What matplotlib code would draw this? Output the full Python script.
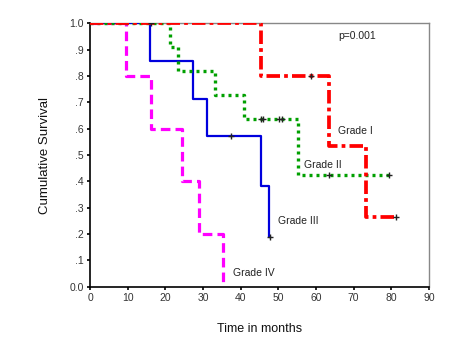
import matplotlib
matplotlib.use("Agg")
import matplotlib.pyplot as plt

plt.rcParams['font.family'] = ['Liberation Sans', 'DejaVu Sans']

# Kaplan-Meier step data (time, survival)
g1_t = [0, 45.4, 63.4, 73.2, 81.2]
g1_s = [1.0, 0.8, 0.533, 0.267, 0.267]
g1_ct = [58.7, 81.2]
g1_cs = [0.8, 0.267]

g2_t = [0, 21.1, 23.4, 33.2, 40.9, 55.1, 79.4]
g2_s = [1.0, 0.909, 0.818, 0.727, 0.636, 0.424, 0.424]
g2_ct = [45.3, 46.0, 50.3, 51.1, 63.4, 79.4]
g2_cs = [0.636, 0.636, 0.636, 0.636, 0.424, 0.424]

g3_t = [0, 15.9, 27.4, 31.1, 45.3, 47.5, 47.8]
g3_s = [1.0, 0.857, 0.714, 0.571, 0.381, 0.190, 0.190]
g3_ct = [16.3, 37.4, 47.8]
g3_cs = [1.0, 0.571, 0.190]

g4_t = [0, 9.6, 16.2, 24.3, 28.9, 35.4]
g4_s = [1.0, 0.8, 0.6, 0.4, 0.2, 0.0]

x_ticks = [0, 10, 20, 30, 40, 50, 60, 70, 80, 90]
y_ticks = [0.0, 0.1, 0.2, 0.3, 0.4, 0.5, 0.6, 0.7, 0.8, 0.9, 1.0]
y_labels = ['0.0', '.1', '.2', '.3', '.4', '.5', '.6', '.7', '.8', '.9', '1.0']

fig = plt.figure(figsize=(4.74, 3.55), dpi=100)
ax = fig.add_axes([0.190, 0.192, 0.715, 0.742])

ax.step(g4_t, g4_s, where='post', color='#ff00ff', lw=2.3, linestyle=(0, (3, 1.6)), zorder=2)
ax.step(g3_t, g3_s, where='post', color='#0000dd', lw=1.6, zorder=3)
ax.step(g2_t, g2_s, where='post', color='#00a000', lw=2.4, linestyle=(0, (0.9, 1.2)), zorder=3)
ax.step(g1_t, g1_s, where='post', color='#ff0000', lw=2.7, linestyle=(0, (3.6, 1.1, 1.0, 1.1)), zorder=4)

for ct, cs in [(g1_ct, g1_cs), (g2_ct, g2_cs), (g3_ct, g3_cs)]:
    ax.plot(ct, cs, linestyle='none', marker='+', color='#222222', ms=5, mew=1.0, zorder=5)

ax.text(65.8, 0.952, 'p=0.001', fontsize=7.5, va='center', ha='left', color='#222222')
ax.text(65.8, 0.592, 'Grade I', fontsize=7.5, va='center', ha='left', color='#222222')
ax.text(56.9, 0.462, 'Grade II', fontsize=7.5, va='center', ha='left', color='#222222')
ax.text(50.0, 0.251, 'Grade III', fontsize=7.5, va='center', ha='left', color='#222222')
ax.text(37.9, 0.051, 'Grade IV', fontsize=7.5, va='center', ha='left', color='#222222')

ax.set_xlim(0, 90)
ax.set_ylim(0, 1.0)
ax.set_xticks(x_ticks)
ax.set_yticks(y_ticks)
ax.set_yticklabels(y_labels)
ax.tick_params(axis='both', labelsize=7.5, length=2.5, width=1.2, direction='out', pad=2,
               colors='black', labelcolor='#333333')

for s in ['left', 'bottom']:
    ax.spines[s].set_color('black')
    ax.spines[s].set_linewidth(1.2)
for s in ['top', 'right']:
    ax.spines[s].set_color('#888888')
    ax.spines[s].set_linewidth(1.0)

ax.set_xlabel('Time in months', fontsize=9, labelpad=14, color='#111111')
ax.set_ylabel('Cumulative Survival', fontsize=9.5, labelpad=13, color='#111111')

fig.savefig('out.png', dpi=100)
